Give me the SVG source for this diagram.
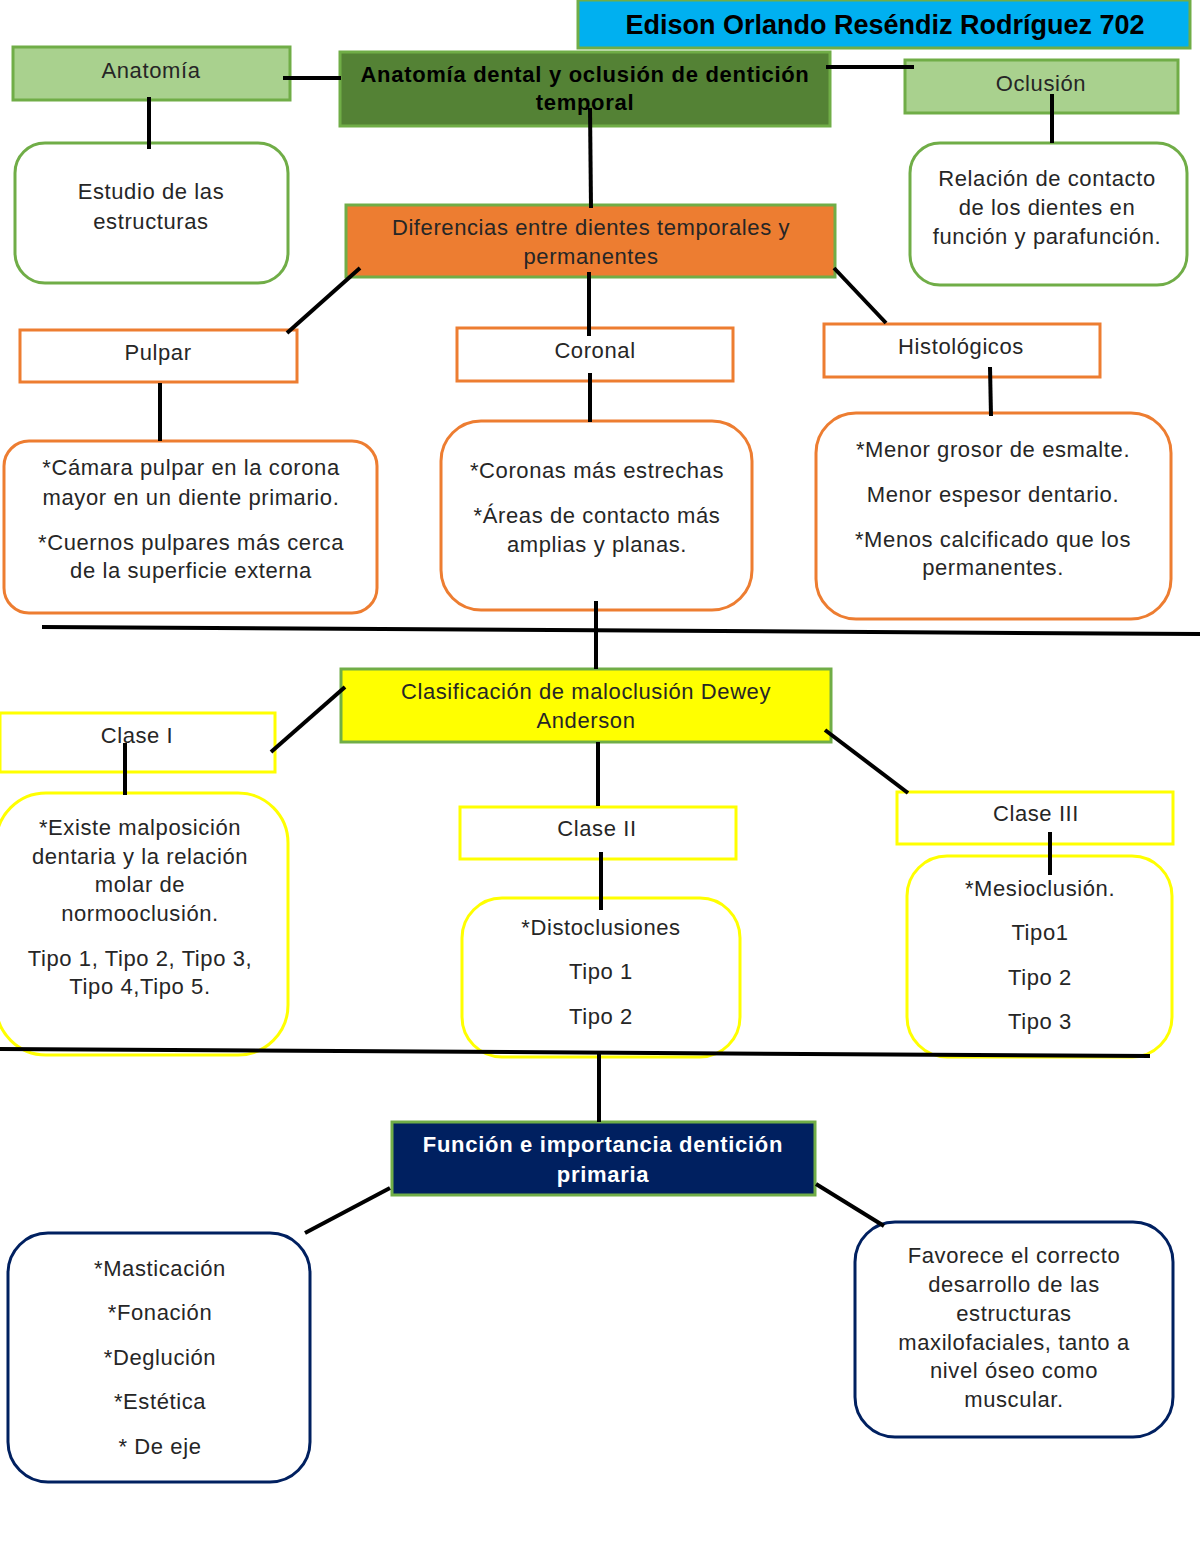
<svg xmlns="http://www.w3.org/2000/svg" width="1200" height="1553" viewBox="0 0 1200 1553">
<style>
text{font-family:"Liberation Sans",Arial,sans-serif;font-size:22px;letter-spacing:0.6px;fill:#262626;text-anchor:middle}
.b{font-weight:bold;fill:#000;letter-spacing:0.7px}
.t{font-weight:bold;fill:#000;font-size:27px;letter-spacing:0}
.w{fill:#fff}
.g{stroke:#70AD47;stroke-width:3}
.lg{fill:#A9D18E}
.ob{fill:#fff;stroke:#ED7D31;stroke-width:3}
.yb{fill:#fff;stroke:#FFFF00;stroke-width:3}
.gb{fill:#fff;stroke:#70AD47;stroke-width:3}
.nb{fill:#fff;stroke:#002060;stroke-width:3}
.c line{stroke:#000;stroke-width:4}
</style>
<rect width="1200" height="1553" fill="#fff"/>
<g id="title"><rect x="578" y="0" width="612" height="48" fill="#00B0F0" class="g"/><text class="t" x="885" y="34">Edison Orlando Reséndiz Rodríguez 702</text></g>
<g id="anatomia"><rect x="13" y="47" width="277" height="53" class="g lg"/><text x="151" y="78">Anatomía</text></g>
<g id="main"><rect x="340" y="52" width="490" height="74" fill="#548235" class="g"/><text class="b" x="585" y="82">Anatomía dental y oclusión de dentición</text><text class="b" x="585" y="110">temporal</text></g>
<g id="oclusion"><rect x="905" y="60" width="273" height="53" class="g lg"/><text x="1041" y="91">Oclusión</text></g>
<g id="estudio"><rect x="15" y="143" width="273" height="140" rx="30" class="gb"/><text x="151" y="199">Estudio de las</text><text x="151" y="229">estructuras</text></g>
<g id="relacion"><rect x="910" y="143" width="277" height="142" rx="30" class="gb"/><text x="1047" y="186">Relación de contacto</text><text x="1047" y="215">de los dientes en</text><text x="1047" y="244">función y parafunción.</text></g>
<g id="diferencias"><rect x="346" y="205" width="489" height="72" fill="#ED7D31" class="g"/><text x="591" y="235">Diferencias entre dientes temporales y</text><text x="591" y="264">permanentes</text></g>
<g id="pulpar"><rect x="20" y="330" width="277" height="52" class="ob"/><text x="158" y="360">Pulpar</text></g>
<g id="coronal"><rect x="457" y="328" width="276" height="53" class="ob"/><text x="595" y="358">Coronal</text></g>
<g id="histologicos"><rect x="824" y="324" width="276" height="53" class="ob"/><text x="961" y="354">Histológicos</text></g>
<g id="pulpar-info"><rect x="4" y="441" width="373" height="172" rx="25" class="ob"/><text x="191" y="475">*Cámara pulpar en la corona</text><text x="191" y="505">mayor en un diente primario.</text><text x="191" y="550">*Cuernos pulpares más cerca</text><text x="191" y="578">de la superficie externa</text></g>
<g id="coronal-info"><rect x="441" y="421" width="311" height="189" rx="40" class="ob"/><text x="597" y="478">*Coronas más estrechas</text><text x="597" y="523">*Áreas de contacto más</text><text x="597" y="552">amplias y planas.</text></g>
<g id="histologicos-info"><rect x="816" y="413" width="355" height="206" rx="40" class="ob"/><text x="993" y="457">*Menor grosor de esmalte.</text><text x="993" y="502">Menor espesor dentario.</text><text x="993" y="547">*Menos calcificado que los</text><text x="993" y="575">permanentes.</text></g>
<g id="clasificacion"><rect x="341" y="669" width="490" height="73" fill="#FFFF00" class="g"/><text x="586" y="699">Clasificación de maloclusión Dewey</text><text x="586" y="728">Anderson</text></g>
<g id="clase1"><rect x="0" y="713" width="275" height="59" class="yb"/><text x="137" y="743">Clase I</text></g>
<g id="clase2"><rect x="460" y="807" width="276" height="52" class="yb"/><text x="597" y="836">Clase II</text></g>
<g id="clase3"><rect x="897" y="792" width="276" height="52" class="yb"/><text x="1036" y="821">Clase III</text></g>
<g id="clase1-info"><rect x="-4" y="793" width="292" height="262" rx="50" class="yb"/><text x="140" y="835">*Existe malposición</text><text x="140" y="864">dentaria y la relación</text><text x="140" y="892">molar de</text><text x="140" y="921">normooclusión.</text><text x="140" y="966">Tipo 1, Tipo 2, Tipo 3,</text><text x="140" y="994">Tipo 4,Tipo 5.</text></g>
<g id="clase2-info"><rect x="462" y="898" width="278" height="159" rx="40" class="yb"/><text x="601" y="935">*Distoclusiones</text><text x="601" y="979">Tipo 1</text><text x="601" y="1024">Tipo 2</text></g>
<g id="clase3-info"><rect x="907" y="856" width="265" height="201" rx="40" class="yb"/><text x="1040" y="896">*Mesioclusión.</text><text x="1040" y="940">Tipo1</text><text x="1040" y="985">Tipo 2</text><text x="1040" y="1029">Tipo 3</text></g>
<g id="funcion"><rect x="392" y="1122" width="423" height="73" fill="#002060" class="g"/><text class="b w" x="603" y="1152">Función e importancia dentición</text><text class="b w" x="603" y="1182">primaria</text></g>
<g id="funciones"><rect x="8" y="1233" width="302" height="249" rx="40" class="nb"/><text x="160" y="1276">*Masticación</text><text x="160" y="1320">*Fonación</text><text x="160" y="1365">*Deglución</text><text x="160" y="1409">*Estética</text><text x="160" y="1454">* De eje</text></g>
<g id="favorece"><rect x="855" y="1222" width="318" height="215" rx="40" class="nb"/><text x="1014" y="1263">Favorece el correcto</text><text x="1014" y="1292">desarrollo de las</text><text x="1014" y="1321">estructuras</text><text x="1014" y="1350">maxilofaciales, tanto a</text><text x="1014" y="1378">nivel óseo como</text><text x="1014" y="1407">muscular.</text></g>
<g id="connectors" class="c">
<line x1="283" y1="78" x2="341" y2="78"/>
<line x1="826" y1="67" x2="914" y2="67"/>
<line x1="149" y1="97" x2="149" y2="149"/>
<line x1="1052" y1="94" x2="1052" y2="143"/>
<line x1="590" y1="108" x2="591" y2="208"/>
<line x1="360" y1="268" x2="287" y2="333"/>
<line x1="589" y1="272" x2="589" y2="336"/>
<line x1="834" y1="268" x2="886" y2="323"/>
<line x1="160" y1="383" x2="160" y2="441"/>
<line x1="590" y1="373" x2="590" y2="422"/>
<line x1="990" y1="367" x2="991" y2="416"/>
<line x1="42" y1="627" x2="1200" y2="634"/>
<line x1="596" y1="601" x2="596" y2="669"/>
<line x1="345" y1="687" x2="271" y2="752"/>
<line x1="125" y1="743" x2="125" y2="795"/>
<line x1="598" y1="742" x2="598" y2="806"/>
<line x1="601" y1="852" x2="601" y2="910"/>
<line x1="825" y1="730" x2="908" y2="793"/>
<line x1="1050" y1="832" x2="1050" y2="875"/>
<line x1="0" y1="1049" x2="1150" y2="1056"/>
<line x1="599" y1="1052" x2="599" y2="1122"/>
<line x1="390" y1="1188" x2="305" y2="1233"/>
<line x1="816" y1="1184" x2="884" y2="1226"/>
</g>
</svg>
